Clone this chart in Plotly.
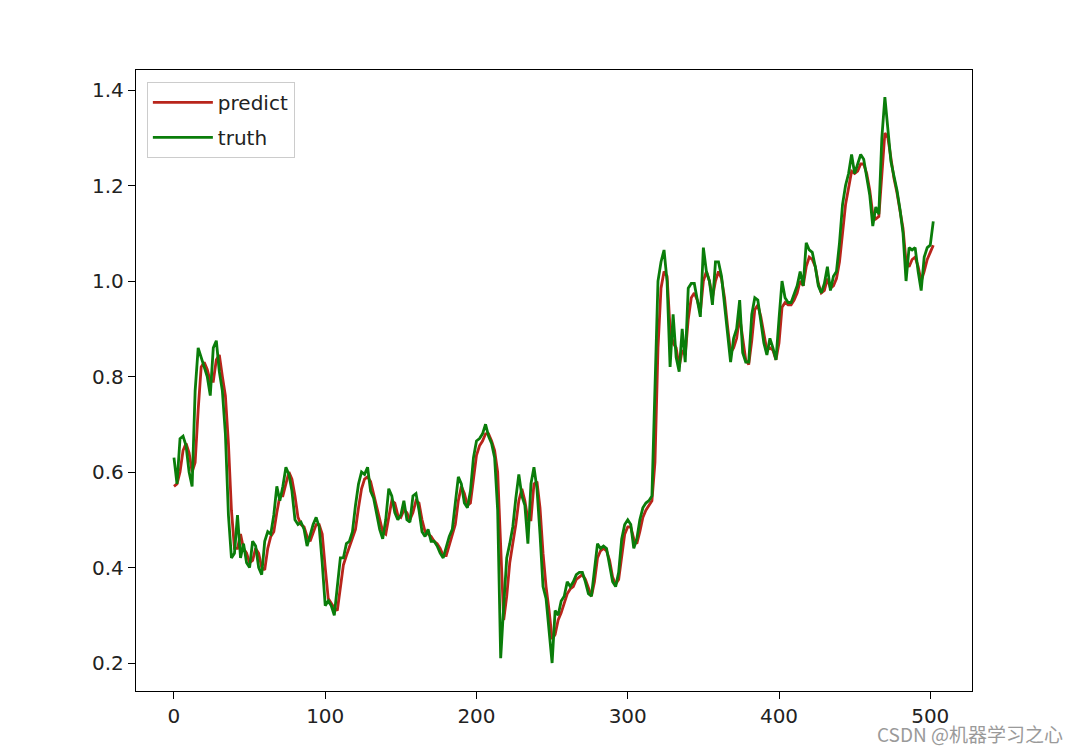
import plotly.graph_objects as go

x_index = list(range(0, 504, 2))

truth = [
    0.63, 0.575, 0.67, 0.675, 0.655, 0.60, 0.57, 0.77, 0.86, 0.84,
    0.82, 0.80, 0.76, 0.86, 0.875, 0.81, 0.77, 0.68, 0.51, 0.42,
    0.43, 0.51, 0.42, 0.45, 0.41, 0.40, 0.455, 0.445, 0.40, 0.385,
    0.455, 0.475, 0.47, 0.51, 0.57, 0.54, 0.57, 0.61, 0.595, 0.56,
    0.50, 0.49, 0.495, 0.48, 0.445, 0.47, 0.49, 0.505, 0.485, 0.41,
    0.32, 0.33, 0.32, 0.30, 0.36, 0.42, 0.42, 0.45, 0.455, 0.475,
    0.53, 0.575, 0.60, 0.595, 0.61, 0.56, 0.545, 0.51, 0.48, 0.46,
    0.50, 0.565, 0.55, 0.515, 0.50, 0.51, 0.54, 0.50, 0.495, 0.55,
    0.555, 0.52, 0.475, 0.465, 0.48, 0.455, 0.455, 0.445, 0.43, 0.42,
    0.445, 0.465, 0.48, 0.53, 0.59, 0.575, 0.535, 0.525, 0.56, 0.63,
    0.665, 0.67, 0.68, 0.70, 0.675, 0.66, 0.63, 0.52, 0.21, 0.32,
    0.42, 0.45, 0.485, 0.545, 0.595, 0.55, 0.53, 0.45, 0.575, 0.61,
    0.565, 0.47, 0.36, 0.335, 0.26, 0.20, 0.31, 0.30, 0.33, 0.34,
    0.37, 0.36, 0.37, 0.385, 0.39, 0.39, 0.37, 0.345, 0.34, 0.40,
    0.45, 0.44, 0.445, 0.44, 0.40, 0.37, 0.36, 0.39, 0.46, 0.49,
    0.50, 0.49, 0.44, 0.46, 0.50, 0.525, 0.535, 0.54, 0.55, 0.75,
    1.00, 1.04, 1.065, 1.00, 0.82, 0.93, 0.84, 0.81, 0.90, 0.83,
    0.985, 0.995, 0.995, 0.96, 0.925, 1.07, 1.02, 1.00, 0.95, 1.04,
    1.04, 1.01, 0.95, 0.88, 0.83, 0.88, 0.90, 0.96, 0.85, 0.83,
    0.83, 0.93, 0.965, 0.96, 0.92, 0.87, 0.845, 0.88, 0.86, 0.835,
    0.92, 1.00, 0.965, 0.955, 0.955, 0.975, 0.99, 1.02, 0.99, 1.08,
    1.065, 1.06, 1.03, 0.99, 0.975, 0.995, 1.03, 0.98, 1.01, 1.02,
    1.08, 1.16, 1.20, 1.225, 1.265, 1.225, 1.245, 1.265, 1.255, 1.22,
    1.18, 1.115, 1.155, 1.14, 1.30, 1.385, 1.32, 1.25, 1.22, 1.19,
    1.15, 1.10, 1.00, 1.07, 1.065, 1.07, 1.02, 0.98, 1.05, 1.07,
    1.075, 1.125,
]

predict = [
    0.57, 0.575, 0.60, 0.645, 0.66, 0.64, 0.60, 0.62, 0.73, 0.82,
    0.83, 0.815, 0.79, 0.79, 0.835, 0.845, 0.80, 0.76, 0.66, 0.52,
    0.44, 0.44, 0.47, 0.44, 0.43, 0.41, 0.415, 0.44, 0.43, 0.40,
    0.395, 0.44, 0.465, 0.475, 0.515, 0.55, 0.55, 0.575, 0.60, 0.585,
    0.55, 0.505, 0.49, 0.485, 0.465, 0.455, 0.475, 0.49, 0.49, 0.47,
    0.40, 0.335, 0.325, 0.315, 0.31, 0.355, 0.405, 0.425, 0.445, 0.46,
    0.48, 0.525, 0.565, 0.585, 0.59, 0.58, 0.555, 0.53, 0.50, 0.475,
    0.47, 0.505, 0.54, 0.535, 0.51, 0.505, 0.52, 0.515, 0.50, 0.515,
    0.54, 0.535, 0.50, 0.475, 0.47, 0.465, 0.455, 0.45, 0.44, 0.425,
    0.425, 0.445, 0.465, 0.49, 0.54, 0.57, 0.555, 0.53, 0.535, 0.58,
    0.635, 0.655, 0.665, 0.68, 0.68, 0.665, 0.645, 0.60, 0.45, 0.29,
    0.34, 0.41, 0.45, 0.49, 0.54, 0.565, 0.54, 0.50, 0.50, 0.575,
    0.58, 0.525, 0.43, 0.36, 0.31, 0.25, 0.26, 0.29, 0.305, 0.325,
    0.345, 0.355, 0.36, 0.375, 0.38, 0.385, 0.375, 0.355, 0.34, 0.37,
    0.42, 0.435, 0.44, 0.435, 0.415, 0.38, 0.365, 0.375, 0.42, 0.47,
    0.485, 0.485, 0.46, 0.45, 0.475, 0.505, 0.52, 0.53, 0.54, 0.62,
    0.86, 0.985, 1.02, 1.01, 0.90, 0.87, 0.86, 0.82, 0.855, 0.845,
    0.92, 0.965, 0.975, 0.96, 0.935, 1.00, 1.02, 1.00, 0.965, 1.00,
    1.02, 1.005, 0.965, 0.905, 0.85, 0.86, 0.88, 0.925, 0.88, 0.835,
    0.825, 0.875, 0.94, 0.95, 0.925, 0.885, 0.855, 0.86, 0.855, 0.835,
    0.87, 0.945, 0.955, 0.95, 0.95, 0.96, 0.975, 1.00, 0.99, 1.03,
    1.05, 1.045, 1.03, 0.995, 0.975, 0.98, 1.005, 0.985, 0.99, 1.005,
    1.04, 1.10, 1.16, 1.195, 1.23, 1.225, 1.23, 1.245, 1.245, 1.225,
    1.19, 1.14, 1.13, 1.135, 1.22, 1.31, 1.30, 1.255, 1.215, 1.185,
    1.15, 1.11, 1.04, 1.03, 1.045, 1.05, 1.03, 1.00, 1.02, 1.045,
    1.06, 1.075,
]

x_ticks = [0, 100, 200, 300, 400, 500]
y_ticks = [0.2, 0.4, 0.6, 0.8, 1.0, 1.2, 1.4]

fig = go.Figure()
fig.add_trace(go.Scatter(x=x_index, y=predict, mode="lines", name="predict",
                         legendgroup="p",
                         line=dict(color="#b8251b", width=2.8)))
fig.add_trace(go.Scatter(x=x_index, y=truth, mode="lines", name="truth",
                         legendgroup="t",
                         line=dict(color="#0a7d0a", width=2.8)))

axis_common = dict(showgrid=False, zeroline=False, showline=True, linecolor="black",
                   linewidth=1.3, mirror=True, ticks="outside", ticklen=7,
                   tickwidth=1.2, tickcolor="black",
                   tickfont=dict(family="DejaVu Sans", size=20, color="#222222"))

fig.update_xaxes(range=[-25.1, 527.6], tickvals=x_ticks, **axis_common)
fig.update_yaxes(range=[0.1414, 1.4419], tickvals=y_ticks, tickformat=".1f", **axis_common)

fig.update_layout(
    width=1080, height=751,
    margin=dict(l=136, r=108, t=70, b=60),
    paper_bgcolor="white", plot_bgcolor="white",
    legend=dict(x=0.013, y=0.981, xanchor="left", yanchor="top",
                bgcolor="rgba(255,255,255,0.85)", bordercolor="#cccccc", borderwidth=1,
                font=dict(family="DejaVu Sans", size=20, color="#222222"),
                traceorder="grouped", tracegroupgap=6, itemwidth=60),
    annotations=[dict(text="CSDN @机器学习之心", xref="paper", yref="paper",
                      x=1.111, y=-0.068, xanchor="right", yanchor="middle", showarrow=False,
                      font=dict(family="Noto Sans CJK SC", size=19, color="#9a9a9a"))],
)

fig.write_html("out.html", config={"displayModeBar": False},
               post_script="document.body.style.margin='0';document.body.style.padding='0';")
